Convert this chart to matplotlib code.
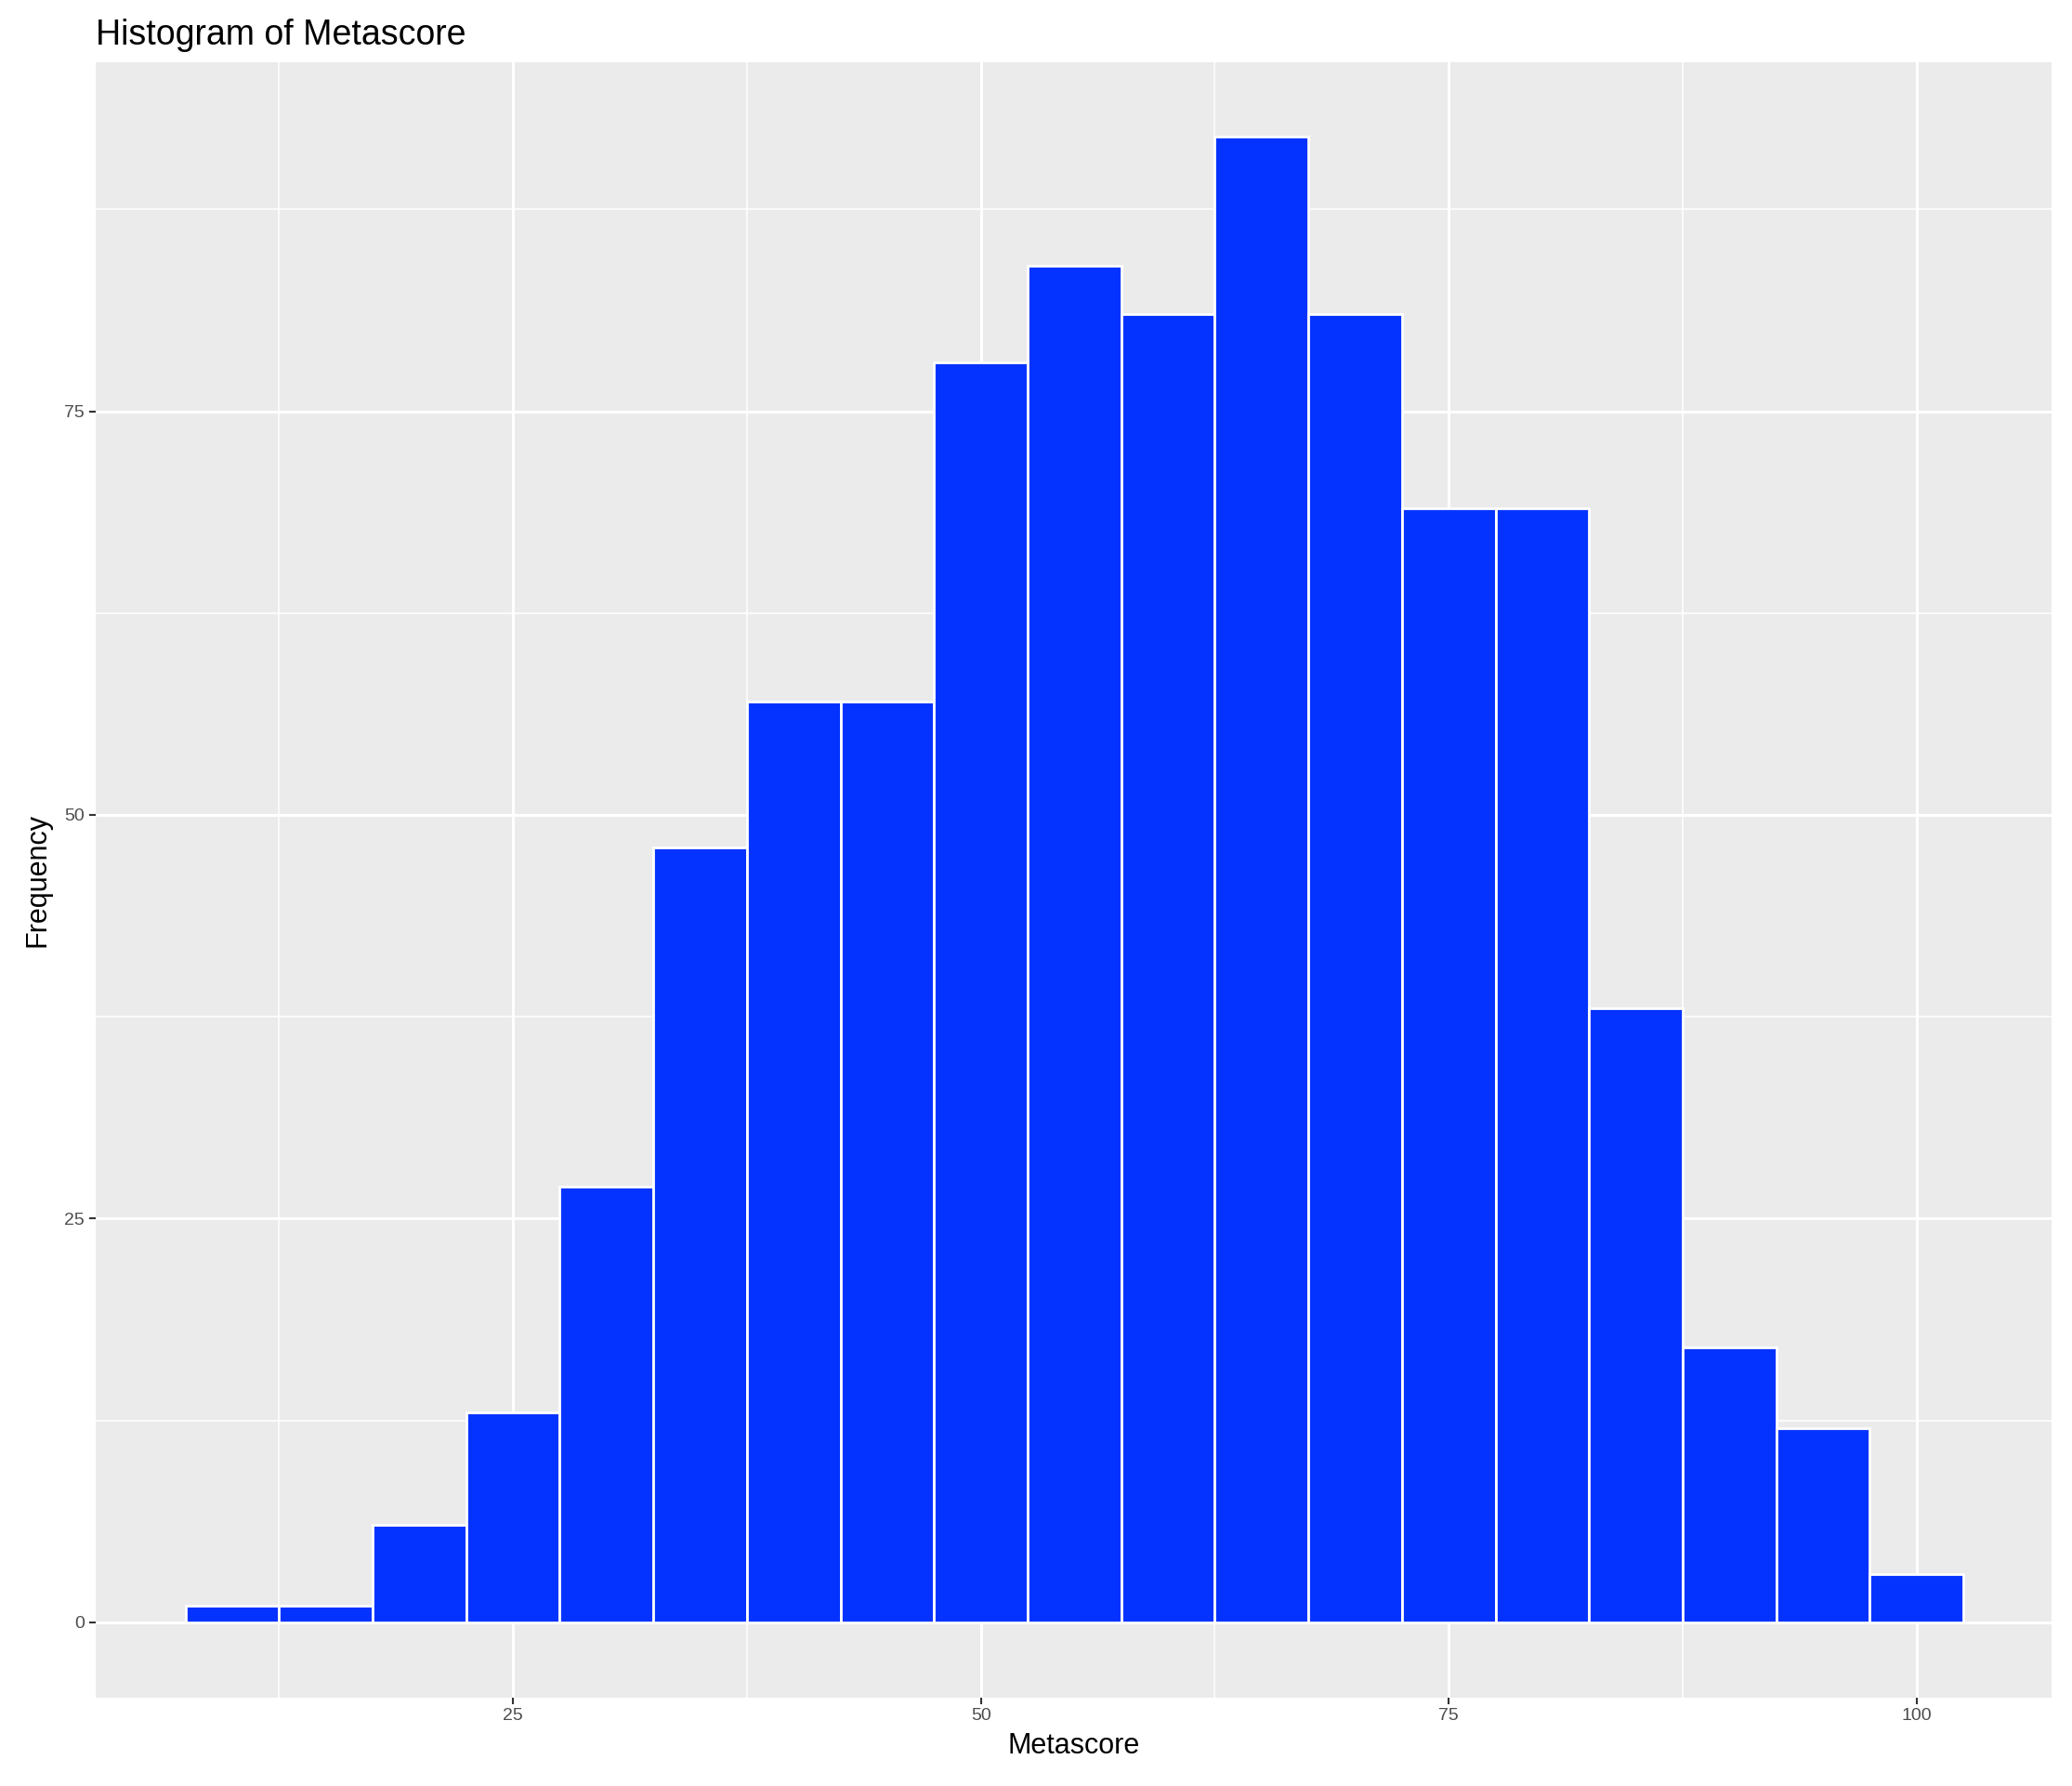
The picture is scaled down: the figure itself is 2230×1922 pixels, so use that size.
import matplotlib
matplotlib.use("Agg")
import matplotlib.pyplot as plt
import numpy as np

bin_centers = [10,15,20,25,30,35,40,45,50,55,60,65,70,75,80,85,90,95,100]
counts = [1,1,6,13,27,48,57,57,78,84,81,92,81,69,69,38,17,12,3]
x_ticks = [25,50,75,100]
y_ticks = [0,25,50,75]

plt.rcParams['font.family'] = ['Liberation Sans', 'DejaVu Sans']
fig = plt.figure(figsize=(22.3,19.22), dpi=100)
ax = fig.add_axes([0.046,0.0496,0.944,0.9154])
ax.set_facecolor('#EBEBEB')
ax.set_xlim(2.68,107.2)
ax.set_ylim(-4.66,96.6)
ax.set_xticks(x_ticks)
ax.set_yticks(y_ticks)
ax.set_xticks([12.5,37.5,62.5,87.5], minor=True)
ax.set_yticks([12.5,37.5,62.5,87.5], minor=True)
ax.grid(which='major', color='white', linewidth=2.2)
ax.grid(which='minor', color='white', linewidth=1.1)
ax.set_axisbelow(True)
ax.bar(bin_centers, counts, width=5, color='#0433FF', edgecolor='white', linewidth=2)
for s in ax.spines.values():
    s.set_visible(False)
ax.tick_params(which='major', length=5, width=1.5, color='#333333', labelsize=14, labelcolor='#4D4D4D')
ax.tick_params(which='minor', length=0)
ax.set_xlabel('Metascore', fontsize=22, labelpad=6)
ax.set_ylabel('Frequency', fontsize=22, labelpad=10)
ax.set_title('Histogram of Metascore', fontsize=27, loc='left', pad=14)
fig.savefig('out.png', dpi=100)
